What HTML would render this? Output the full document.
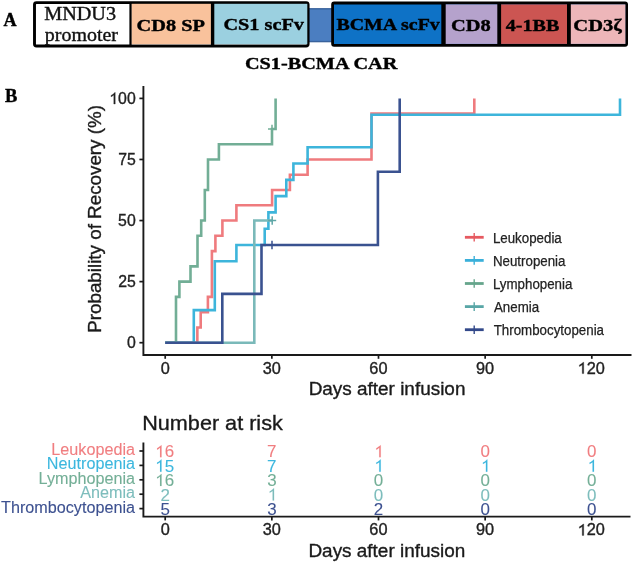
<!DOCTYPE html>
<html><head><meta charset="utf-8"><style>
html,body{margin:0;padding:0;background:#fff;}
body{width:633px;height:562px;overflow:hidden;}
svg{display:block;filter:blur(0.3px);}
</style></head><body>
<svg width="633" height="562" viewBox="0 0 633 562">
<text x="3.42" y="25.50" font-family="Liberation Serif" font-weight="bold" font-size="18.5" fill="#000" stroke="#000" stroke-width="0.4" textLength="13.11" lengthAdjust="spacingAndGlyphs">A</text>
<rect x="308" y="8.8" width="25" height="32.8" fill="#4B7EC1" stroke="#39629C" stroke-width="1.4" rx="0"/>
<rect x="34.5" y="2.6" width="273.6" height="43.4" fill="#fff" stroke="#000" stroke-width="2.9" rx="2"/>
<rect x="131.3" y="3.8" width="81" height="40.4" fill="#F9C29C" stroke="none" stroke-width="0" rx="0"/>
<rect x="212.6" y="3.8" width="94.7" height="40.4" fill="#9BD0E0" stroke="none" stroke-width="0" rx="0"/>
<line x1="130.5" y1="2.5" x2="130.5" y2="45.5" stroke="#000" stroke-width="2.2"/>
<line x1="212.6" y1="2.5" x2="212.6" y2="45.5" stroke="#000" stroke-width="3.4"/>
<rect x="332.6" y="3.0" width="294" height="42.3" fill="#0E72C6" stroke="#000" stroke-width="2.8" rx="1.5"/>
<rect x="444" y="4.4" width="54.5" height="39.5" fill="#B5A2CC" stroke="none" stroke-width="0" rx="0"/>
<rect x="499" y="4.4" width="70" height="39.5" fill="#CC5552" stroke="none" stroke-width="0" rx="0"/>
<rect x="569" y="4.4" width="56.4" height="39.5" fill="#EDB6B9" stroke="none" stroke-width="0" rx="0"/>
<line x1="443.5" y1="3" x2="443.5" y2="45.3" stroke="#000" stroke-width="4.4"/>
<line x1="499.2" y1="3" x2="499.2" y2="45.3" stroke="#000" stroke-width="3.8"/>
<line x1="568.9" y1="3" x2="568.9" y2="45.3" stroke="#000" stroke-width="3.8"/>
<text x="44.21" y="20.00" font-family="Liberation Serif" font-weight="normal" font-size="17.8" fill="#111" stroke="#111" stroke-width="0.35" textLength="71.87" lengthAdjust="spacingAndGlyphs">MNDU3</text>
<text x="44.88" y="40.60" font-family="Liberation Serif" font-weight="normal" font-size="18.0" fill="#111" stroke="#111" stroke-width="0.35" textLength="73.09" lengthAdjust="spacingAndGlyphs">promoter</text>
<text x="136.61" y="30.80" font-family="Liberation Serif" font-weight="bold" font-size="17.2" fill="#000" stroke="#000" stroke-width="0.4" textLength="68.25" lengthAdjust="spacingAndGlyphs">CD8 SP</text>
<text x="223.51" y="30.30" font-family="Liberation Serif" font-weight="bold" font-size="17.4" fill="#000" stroke="#000" stroke-width="0.4" textLength="80.40" lengthAdjust="spacingAndGlyphs">CS1 scFv</text>
<text x="336.46" y="30.30" font-family="Liberation Serif" font-weight="bold" font-size="17.0" fill="#000" stroke="#000" stroke-width="0.4" textLength="103.34" lengthAdjust="spacingAndGlyphs">BCMA scFv</text>
<text x="451.00" y="31.00" font-family="Liberation Serif" font-weight="bold" font-size="17.2" fill="#000" stroke="#000" stroke-width="0.4" textLength="39.68" lengthAdjust="spacingAndGlyphs">CD8</text>
<text x="505.82" y="31.00" font-family="Liberation Serif" font-weight="bold" font-size="17.4" fill="#000" stroke="#000" stroke-width="0.4" textLength="53.44" lengthAdjust="spacingAndGlyphs">4-1BB</text>
<text x="573.39" y="31.00" font-family="Liberation Serif" font-weight="bold" font-size="17.4" fill="#000" stroke="#000" stroke-width="0.4" textLength="48.41" lengthAdjust="spacingAndGlyphs">CD3ζ</text>
<text x="244.91" y="69.30" font-family="Liberation Serif" font-weight="bold" font-size="17.5" fill="#000" stroke="#000" stroke-width="0.4" textLength="152.41" lengthAdjust="spacingAndGlyphs">CS1-BCMA CAR</text>
<text x="4.99" y="101.70" font-family="Liberation Serif" font-weight="bold" font-size="18.5" fill="#000" stroke="#000" stroke-width="0.4" textLength="12.33" lengthAdjust="spacingAndGlyphs">B</text>
<path d="M143.4 86 V355 H631.5" fill="none" stroke="#1a1a1a" stroke-width="1.9"/>
<line x1="139.4" y1="342.70" x2="143.4" y2="342.70" stroke="#1a1a1a" stroke-width="1.7"/>
<text x="126.91" y="348.30" font-family="Liberation Sans" font-size="16" fill="#222" stroke="#222" stroke-width="0.35" textLength="8.81" lengthAdjust="spacingAndGlyphs">0</text>
<line x1="139.4" y1="281.62" x2="143.4" y2="281.62" stroke="#1a1a1a" stroke-width="1.7"/>
<text x="118.15" y="287.23" font-family="Liberation Sans" font-size="16" fill="#222" stroke="#222" stroke-width="0.35" textLength="8.81" lengthAdjust="spacingAndGlyphs">2</text>
<text x="126.96" y="287.23" font-family="Liberation Sans" font-size="16" fill="#222" stroke="#222" stroke-width="0.35" textLength="8.81" lengthAdjust="spacingAndGlyphs">5</text>
<line x1="139.4" y1="220.55" x2="143.4" y2="220.55" stroke="#1a1a1a" stroke-width="1.7"/>
<text x="118.10" y="226.15" font-family="Liberation Sans" font-size="16" fill="#222" stroke="#222" stroke-width="0.35" textLength="8.81" lengthAdjust="spacingAndGlyphs">5</text>
<text x="126.91" y="226.15" font-family="Liberation Sans" font-size="16" fill="#222" stroke="#222" stroke-width="0.35" textLength="8.81" lengthAdjust="spacingAndGlyphs">0</text>
<line x1="139.4" y1="159.47" x2="143.4" y2="159.47" stroke="#1a1a1a" stroke-width="1.7"/>
<text x="118.15" y="165.07" font-family="Liberation Sans" font-size="16" fill="#222" stroke="#222" stroke-width="0.35" textLength="8.81" lengthAdjust="spacingAndGlyphs">7</text>
<text x="126.96" y="165.07" font-family="Liberation Sans" font-size="16" fill="#222" stroke="#222" stroke-width="0.35" textLength="8.81" lengthAdjust="spacingAndGlyphs">5</text>
<line x1="139.4" y1="98.40" x2="143.4" y2="98.40" stroke="#1a1a1a" stroke-width="1.7"/>
<path transform="translate(109.30 104.00) scale(0.01584 -0.01600)" d="M373 0 L285 0 L285 560 C262 538 232 516 197 495 C162 474 132 459 109 450 L109 535 C156 557 207 589 256 628 C300 664 331 697 348 716 L373 716 Z" fill="#222" stroke="#222" stroke-width="21.9"/>
<text x="118.10" y="104.00" font-family="Liberation Sans" font-size="16" fill="#222" stroke="#222" stroke-width="0.35" textLength="8.81" lengthAdjust="spacingAndGlyphs">0</text>
<text x="126.91" y="104.00" font-family="Liberation Sans" font-size="16" fill="#222" stroke="#222" stroke-width="0.35" textLength="8.81" lengthAdjust="spacingAndGlyphs">0</text>
<line x1="165.20" y1="355" x2="165.20" y2="358.8" stroke="#1a1a1a" stroke-width="1.7"/>
<text x="160.66" y="373.60" font-family="Liberation Sans" font-size="16" fill="#222" stroke="#222" stroke-width="0.35" textLength="9.07" lengthAdjust="spacingAndGlyphs">0</text>
<line x1="271.85" y1="355" x2="271.85" y2="358.8" stroke="#1a1a1a" stroke-width="1.7"/>
<text x="262.78" y="373.60" font-family="Liberation Sans" font-size="16" fill="#222" stroke="#222" stroke-width="0.35" textLength="9.07" lengthAdjust="spacingAndGlyphs">3</text>
<text x="271.86" y="373.60" font-family="Liberation Sans" font-size="16" fill="#222" stroke="#222" stroke-width="0.35" textLength="9.07" lengthAdjust="spacingAndGlyphs">0</text>
<line x1="378.50" y1="355" x2="378.50" y2="358.8" stroke="#1a1a1a" stroke-width="1.7"/>
<text x="369.33" y="373.60" font-family="Liberation Sans" font-size="16" fill="#222" stroke="#222" stroke-width="0.35" textLength="9.07" lengthAdjust="spacingAndGlyphs">6</text>
<text x="378.40" y="373.60" font-family="Liberation Sans" font-size="16" fill="#222" stroke="#222" stroke-width="0.35" textLength="9.07" lengthAdjust="spacingAndGlyphs">0</text>
<line x1="485.15" y1="355" x2="485.15" y2="358.8" stroke="#1a1a1a" stroke-width="1.7"/>
<text x="476.01" y="373.60" font-family="Liberation Sans" font-size="16" fill="#222" stroke="#222" stroke-width="0.35" textLength="9.07" lengthAdjust="spacingAndGlyphs">9</text>
<text x="485.08" y="373.60" font-family="Liberation Sans" font-size="16" fill="#222" stroke="#222" stroke-width="0.35" textLength="9.07" lengthAdjust="spacingAndGlyphs">0</text>
<line x1="591.80" y1="355" x2="591.80" y2="358.8" stroke="#1a1a1a" stroke-width="1.7"/>
<path transform="translate(577.62 373.60) scale(0.01632 -0.01600)" d="M373 0 L285 0 L285 560 C262 538 232 516 197 495 C162 474 132 459 109 450 L109 535 C156 557 207 589 256 628 C300 664 331 697 348 716 L373 716 Z" fill="#222" stroke="#222" stroke-width="21.9"/>
<text x="586.69" y="373.60" font-family="Liberation Sans" font-size="16" fill="#222" stroke="#222" stroke-width="0.35" textLength="9.07" lengthAdjust="spacingAndGlyphs">2</text>
<text x="595.77" y="373.60" font-family="Liberation Sans" font-size="16" fill="#222" stroke="#222" stroke-width="0.35" textLength="9.07" lengthAdjust="spacingAndGlyphs">0</text>
<text x="308.65" y="395.10" font-family="Liberation Sans" font-weight="normal" font-size="18.3" fill="#1a1a1a" stroke="#1a1a1a" stroke-width="0.35" textLength="156.78" lengthAdjust="spacingAndGlyphs">Days after infusion</text>
<text transform="rotate(-90)" x="-332.84" y="100.80" font-family="Liberation Sans" font-weight="normal" font-size="18.0" fill="#1a1a1a" stroke="#1a1a1a" stroke-width="0.35" textLength="227.81" lengthAdjust="spacingAndGlyphs">Probability of Recovery (%)</text>
<g fill="none" stroke-width="2.6" stroke-linecap="butt" stroke-linejoin="miter">
<path d="M165.20 342.70 H197.35 V327.43 H200.70 V312.16 H207.90 V296.89 H211.90 V251.09 H215.40 V235.82 H222.40 V220.55 H236.40 V205.28 H272.10 V190.01 H289.90 V174.74 H307.60 V159.47 H371.50 V113.67 H474.30 V98.40" stroke="#EF7B7E"/>
<path d="M165.20 342.70 H193.80 V310.13 H214.80 V261.27 H236.40 V244.98 H264.70 V228.69 H268.40 V212.41 H275.60 V196.12 H286.30 V179.83 H293.40 V163.55 H307.60 V147.26 H371.50 V114.69 H620.00 V98.40" stroke="#3DB5DB"/>
<path d="M165.20 342.70 H176.00 V296.89 H179.40 V281.62 H190.50 V266.36 H197.50 V235.82 H201.20 V220.55 H204.80 V190.01 H208.00 V159.47 H218.90 V144.21 H272.00 V128.94 H275.60 V98.40" stroke="#72AE96"/>
<path d="M165.20 342.70 H254.30 V220.55 H272.2" stroke="#7AB9B9"/>
<path d="M165.20 342.70 H222.30 V293.84 H261.50 V244.98 H377.90 V171.69 H399.70 V98.40" stroke="#3A5290"/>
</g>
<path d="M268.00 128.94 H276.00 M272.00 124.74 V133.14" stroke="#72AE96" stroke-width="1.5" fill="none"/>
<path d="M268.20 220.55 H276.20 M272.20 216.35 V224.75" stroke="#5FA7A7" stroke-width="1.5" fill="none"/>
<path d="M268.00 244.98 H276.00 M272.00 240.78 V249.18" stroke="#3A5290" stroke-width="1.5" fill="none"/>
<line x1="464.9" y1="237.30" x2="483.7" y2="237.30" stroke="#E65A60" stroke-width="2.8"/>
<line x1="474.2" y1="233.00" x2="474.2" y2="241.60" stroke="#E65A60" stroke-width="1.4"/>
<text x="492.91" y="242.70" font-family="Liberation Sans" font-weight="normal" font-size="13.8" fill="#222" stroke="#222" stroke-width="0.25" textLength="68.87" lengthAdjust="spacingAndGlyphs">Leukopedia</text>
<line x1="464.9" y1="260.40" x2="483.7" y2="260.40" stroke="#3AB0DA" stroke-width="2.8"/>
<line x1="474.2" y1="256.10" x2="474.2" y2="264.70" stroke="#3AB0DA" stroke-width="1.4"/>
<text x="492.91" y="265.80" font-family="Liberation Sans" font-weight="normal" font-size="13.8" fill="#222" stroke="#222" stroke-width="0.25" textLength="72.56" lengthAdjust="spacingAndGlyphs">Neutropenia</text>
<line x1="464.9" y1="283.50" x2="483.7" y2="283.50" stroke="#66A58C" stroke-width="2.8"/>
<line x1="474.2" y1="279.20" x2="474.2" y2="287.80" stroke="#66A58C" stroke-width="1.4"/>
<text x="492.91" y="288.90" font-family="Liberation Sans" font-weight="normal" font-size="13.8" fill="#222" stroke="#222" stroke-width="0.25" textLength="79.47" lengthAdjust="spacingAndGlyphs">Lymphopenia</text>
<line x1="464.9" y1="306.60" x2="483.7" y2="306.60" stroke="#58A6A6" stroke-width="2.8"/>
<line x1="474.2" y1="302.30" x2="474.2" y2="310.90" stroke="#58A6A6" stroke-width="1.4"/>
<text x="493.97" y="312.00" font-family="Liberation Sans" font-weight="normal" font-size="13.8" fill="#222" stroke="#222" stroke-width="0.25" textLength="45.15" lengthAdjust="spacingAndGlyphs">Anemia</text>
<line x1="464.9" y1="329.70" x2="483.7" y2="329.70" stroke="#33498A" stroke-width="2.8"/>
<line x1="474.2" y1="325.40" x2="474.2" y2="334.00" stroke="#33498A" stroke-width="1.4"/>
<text x="493.71" y="335.10" font-family="Liberation Sans" font-weight="normal" font-size="13.8" fill="#222" stroke="#222" stroke-width="0.25" textLength="110.30" lengthAdjust="spacingAndGlyphs">Thrombocytopenia</text>
<text x="142.23" y="430.00" font-family="Liberation Sans" font-weight="normal" font-size="21" fill="#1a1a1a" stroke="#1a1a1a" stroke-width="0.35" textLength="140.54" lengthAdjust="spacingAndGlyphs">Number at risk</text>
<path d="M143.4 442.5 V516.6 H630.5" fill="none" stroke="#1a1a1a" stroke-width="1.9"/>
<line x1="139.4" y1="451.00" x2="143.4" y2="451.00" stroke="#1a1a1a" stroke-width="1.7"/>
<text x="51.36" y="455.00" font-family="Liberation Sans" font-weight="normal" font-size="15.6" fill="#F07E80" stroke="#F07E80" stroke-width="0.1" textLength="83.64" lengthAdjust="spacingAndGlyphs">Leukopedia</text>
<path transform="translate(155.20 457.30) scale(0.01700 -0.01700)" d="M373 0 L285 0 L285 560 C262 538 232 516 197 495 C162 474 132 459 109 450 L109 535 C156 557 207 589 256 628 C300 664 331 697 348 716 L373 716 Z" fill="#F07E80" stroke="#F07E80" stroke-width="5.9"/>
<text x="164.65" y="457.30" font-family="Liberation Sans" font-size="17" fill="#F07E80" stroke="#F07E80" stroke-width="0.1" textLength="9.45" lengthAdjust="spacingAndGlyphs">6</text>
<text x="267.12" y="457.30" font-family="Liberation Sans" font-size="17" fill="#F07E80" stroke="#F07E80" stroke-width="0.1" textLength="9.45" lengthAdjust="spacingAndGlyphs">7</text>
<path transform="translate(374.40 457.30) scale(0.01700 -0.01700)" d="M373 0 L285 0 L285 560 C262 538 232 516 197 495 C162 474 132 459 109 450 L109 535 C156 557 207 589 256 628 C300 664 331 697 348 716 L373 716 Z" fill="#F07E80" stroke="#F07E80" stroke-width="5.9"/>
<text x="480.42" y="457.30" font-family="Liberation Sans" font-size="17" fill="#F07E80" stroke="#F07E80" stroke-width="0.1" textLength="9.45" lengthAdjust="spacingAndGlyphs">0</text>
<text x="587.07" y="457.30" font-family="Liberation Sans" font-size="17" fill="#F07E80" stroke="#F07E80" stroke-width="0.1" textLength="9.45" lengthAdjust="spacingAndGlyphs">0</text>
<line x1="139.4" y1="465.40" x2="143.4" y2="465.40" stroke="#1a1a1a" stroke-width="1.7"/>
<text x="46.88" y="469.40" font-family="Liberation Sans" font-weight="normal" font-size="15.6" fill="#3DB7DE" stroke="#3DB7DE" stroke-width="0.1" textLength="88.12" lengthAdjust="spacingAndGlyphs">Neutropenia</text>
<path transform="translate(155.18 471.70) scale(0.01700 -0.01700)" d="M373 0 L285 0 L285 560 C262 538 232 516 197 495 C162 474 132 459 109 450 L109 535 C156 557 207 589 256 628 C300 664 331 697 348 716 L373 716 Z" fill="#3DB7DE" stroke="#3DB7DE" stroke-width="5.9"/>
<text x="164.63" y="471.70" font-family="Liberation Sans" font-size="17" fill="#3DB7DE" stroke="#3DB7DE" stroke-width="0.1" textLength="9.45" lengthAdjust="spacingAndGlyphs">5</text>
<text x="267.12" y="471.70" font-family="Liberation Sans" font-size="17" fill="#3DB7DE" stroke="#3DB7DE" stroke-width="0.1" textLength="9.45" lengthAdjust="spacingAndGlyphs">7</text>
<path transform="translate(374.40 471.70) scale(0.01700 -0.01700)" d="M373 0 L285 0 L285 560 C262 538 232 516 197 495 C162 474 132 459 109 450 L109 535 C156 557 207 589 256 628 C300 664 331 697 348 716 L373 716 Z" fill="#3DB7DE" stroke="#3DB7DE" stroke-width="5.9"/>
<path transform="translate(481.05 471.70) scale(0.01700 -0.01700)" d="M373 0 L285 0 L285 560 C262 538 232 516 197 495 C162 474 132 459 109 450 L109 535 C156 557 207 589 256 628 C300 664 331 697 348 716 L373 716 Z" fill="#3DB7DE" stroke="#3DB7DE" stroke-width="5.9"/>
<path transform="translate(587.70 471.70) scale(0.01700 -0.01700)" d="M373 0 L285 0 L285 560 C262 538 232 516 197 495 C162 474 132 459 109 450 L109 535 C156 557 207 589 256 628 C300 664 331 697 348 716 L373 716 Z" fill="#3DB7DE" stroke="#3DB7DE" stroke-width="5.9"/>
<line x1="139.4" y1="479.80" x2="143.4" y2="479.80" stroke="#1a1a1a" stroke-width="1.7"/>
<text x="38.49" y="483.80" font-family="Liberation Sans" font-weight="normal" font-size="15.6" fill="#74AF97" stroke="#74AF97" stroke-width="0.1" textLength="96.52" lengthAdjust="spacingAndGlyphs">Lymphopenia</text>
<path transform="translate(155.20 486.10) scale(0.01700 -0.01700)" d="M373 0 L285 0 L285 560 C262 538 232 516 197 495 C162 474 132 459 109 450 L109 535 C156 557 207 589 256 628 C300 664 331 697 348 716 L373 716 Z" fill="#74AF97" stroke="#74AF97" stroke-width="5.9"/>
<text x="164.65" y="486.10" font-family="Liberation Sans" font-size="17" fill="#74AF97" stroke="#74AF97" stroke-width="0.1" textLength="9.45" lengthAdjust="spacingAndGlyphs">6</text>
<text x="267.18" y="486.10" font-family="Liberation Sans" font-size="17" fill="#74AF97" stroke="#74AF97" stroke-width="0.1" textLength="9.45" lengthAdjust="spacingAndGlyphs">3</text>
<text x="373.77" y="486.10" font-family="Liberation Sans" font-size="17" fill="#74AF97" stroke="#74AF97" stroke-width="0.1" textLength="9.45" lengthAdjust="spacingAndGlyphs">0</text>
<text x="480.42" y="486.10" font-family="Liberation Sans" font-size="17" fill="#74AF97" stroke="#74AF97" stroke-width="0.1" textLength="9.45" lengthAdjust="spacingAndGlyphs">0</text>
<text x="587.07" y="486.10" font-family="Liberation Sans" font-size="17" fill="#74AF97" stroke="#74AF97" stroke-width="0.1" textLength="9.45" lengthAdjust="spacingAndGlyphs">0</text>
<line x1="139.4" y1="494.20" x2="143.4" y2="494.20" stroke="#1a1a1a" stroke-width="1.7"/>
<text x="80.15" y="498.20" font-family="Liberation Sans" font-weight="normal" font-size="15.6" fill="#7DBDBC" stroke="#7DBDBC" stroke-width="0.1" textLength="54.84" lengthAdjust="spacingAndGlyphs">Anemia</text>
<text x="160.47" y="500.50" font-family="Liberation Sans" font-size="17" fill="#7DBDBC" stroke="#7DBDBC" stroke-width="0.1" textLength="9.45" lengthAdjust="spacingAndGlyphs">2</text>
<path transform="translate(267.75 500.50) scale(0.01700 -0.01700)" d="M373 0 L285 0 L285 560 C262 538 232 516 197 495 C162 474 132 459 109 450 L109 535 C156 557 207 589 256 628 C300 664 331 697 348 716 L373 716 Z" fill="#7DBDBC" stroke="#7DBDBC" stroke-width="5.9"/>
<text x="373.77" y="500.50" font-family="Liberation Sans" font-size="17" fill="#7DBDBC" stroke="#7DBDBC" stroke-width="0.1" textLength="9.45" lengthAdjust="spacingAndGlyphs">0</text>
<text x="480.42" y="500.50" font-family="Liberation Sans" font-size="17" fill="#7DBDBC" stroke="#7DBDBC" stroke-width="0.1" textLength="9.45" lengthAdjust="spacingAndGlyphs">0</text>
<text x="587.07" y="500.50" font-family="Liberation Sans" font-size="17" fill="#7DBDBC" stroke="#7DBDBC" stroke-width="0.1" textLength="9.45" lengthAdjust="spacingAndGlyphs">0</text>
<line x1="139.4" y1="508.60" x2="143.4" y2="508.60" stroke="#1a1a1a" stroke-width="1.7"/>
<text x="1.04" y="512.60" font-family="Liberation Sans" font-weight="normal" font-size="15.6" fill="#3D5190" stroke="#3D5190" stroke-width="0.1" textLength="133.96" lengthAdjust="spacingAndGlyphs">Thrombocytopenia</text>
<text x="160.49" y="514.90" font-family="Liberation Sans" font-size="17" fill="#3D5190" stroke="#3D5190" stroke-width="0.1" textLength="9.45" lengthAdjust="spacingAndGlyphs">5</text>
<text x="267.18" y="514.90" font-family="Liberation Sans" font-size="17" fill="#3D5190" stroke="#3D5190" stroke-width="0.1" textLength="9.45" lengthAdjust="spacingAndGlyphs">3</text>
<text x="373.77" y="514.90" font-family="Liberation Sans" font-size="17" fill="#3D5190" stroke="#3D5190" stroke-width="0.1" textLength="9.45" lengthAdjust="spacingAndGlyphs">2</text>
<text x="480.42" y="514.90" font-family="Liberation Sans" font-size="17" fill="#3D5190" stroke="#3D5190" stroke-width="0.1" textLength="9.45" lengthAdjust="spacingAndGlyphs">0</text>
<text x="587.07" y="514.90" font-family="Liberation Sans" font-size="17" fill="#3D5190" stroke="#3D5190" stroke-width="0.1" textLength="9.45" lengthAdjust="spacingAndGlyphs">0</text>
<line x1="165.20" y1="516.6" x2="165.20" y2="520.4" stroke="#1a1a1a" stroke-width="1.7"/>
<text x="160.66" y="535.40" font-family="Liberation Sans" font-size="16" fill="#222" stroke="#222" stroke-width="0.35" textLength="9.07" lengthAdjust="spacingAndGlyphs">0</text>
<line x1="271.85" y1="516.6" x2="271.85" y2="520.4" stroke="#1a1a1a" stroke-width="1.7"/>
<text x="262.78" y="535.40" font-family="Liberation Sans" font-size="16" fill="#222" stroke="#222" stroke-width="0.35" textLength="9.07" lengthAdjust="spacingAndGlyphs">3</text>
<text x="271.86" y="535.40" font-family="Liberation Sans" font-size="16" fill="#222" stroke="#222" stroke-width="0.35" textLength="9.07" lengthAdjust="spacingAndGlyphs">0</text>
<line x1="378.50" y1="516.6" x2="378.50" y2="520.4" stroke="#1a1a1a" stroke-width="1.7"/>
<text x="369.33" y="535.40" font-family="Liberation Sans" font-size="16" fill="#222" stroke="#222" stroke-width="0.35" textLength="9.07" lengthAdjust="spacingAndGlyphs">6</text>
<text x="378.40" y="535.40" font-family="Liberation Sans" font-size="16" fill="#222" stroke="#222" stroke-width="0.35" textLength="9.07" lengthAdjust="spacingAndGlyphs">0</text>
<line x1="485.15" y1="516.6" x2="485.15" y2="520.4" stroke="#1a1a1a" stroke-width="1.7"/>
<text x="476.01" y="535.40" font-family="Liberation Sans" font-size="16" fill="#222" stroke="#222" stroke-width="0.35" textLength="9.07" lengthAdjust="spacingAndGlyphs">9</text>
<text x="485.08" y="535.40" font-family="Liberation Sans" font-size="16" fill="#222" stroke="#222" stroke-width="0.35" textLength="9.07" lengthAdjust="spacingAndGlyphs">0</text>
<line x1="591.80" y1="516.6" x2="591.80" y2="520.4" stroke="#1a1a1a" stroke-width="1.7"/>
<path transform="translate(577.62 535.40) scale(0.01632 -0.01600)" d="M373 0 L285 0 L285 560 C262 538 232 516 197 495 C162 474 132 459 109 450 L109 535 C156 557 207 589 256 628 C300 664 331 697 348 716 L373 716 Z" fill="#222" stroke="#222" stroke-width="21.9"/>
<text x="586.69" y="535.40" font-family="Liberation Sans" font-size="16" fill="#222" stroke="#222" stroke-width="0.35" textLength="9.07" lengthAdjust="spacingAndGlyphs">2</text>
<text x="595.77" y="535.40" font-family="Liberation Sans" font-size="16" fill="#222" stroke="#222" stroke-width="0.35" textLength="9.07" lengthAdjust="spacingAndGlyphs">0</text>
<text x="308.45" y="556.70" font-family="Liberation Sans" font-weight="normal" font-size="18.3" fill="#1a1a1a" stroke="#1a1a1a" stroke-width="0.35" textLength="156.78" lengthAdjust="spacingAndGlyphs">Days after infusion</text>
</svg>
</body></html>
